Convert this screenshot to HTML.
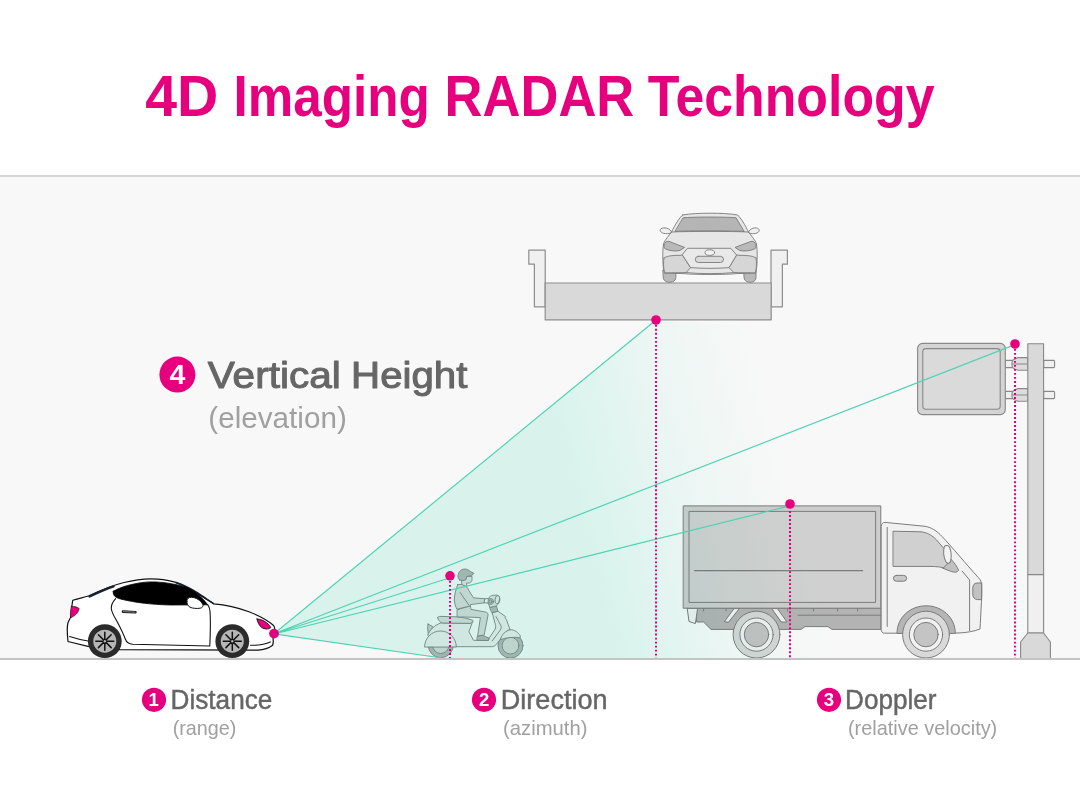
<!DOCTYPE html>
<html lang="en">
<head>
<meta charset="utf-8">
<title>4D Imaging RADAR Technology</title>
<style>
html,body{margin:0;padding:0;background:#fff;}
body{width:1080px;height:785px;overflow:hidden;font-family:"Liberation Sans",sans-serif;}
svg{display:block;}
text{font-family:"Liberation Sans",sans-serif;}
.t{fill:#e6007e;font-weight:700;font-size:58px;}
.h{fill:#666;font-size:26px;}
.s{fill:#a2a2a2;font-size:20px;}
.n{fill:#fff;font-weight:700;font-size:18.6px;text-anchor:middle;}
.dot{fill:#e6007e;}
.dl{stroke:#e6007e;stroke-width:2;stroke-dasharray:1.9 2.11;fill:none;}
.bm{stroke:#4fd3b3;stroke-width:1.2;fill:none;}
</style>
</head>
<body>
<svg width="1080" height="785" viewBox="0 0 1080 785">
<defs>
<linearGradient id="beam" gradientUnits="userSpaceOnUse" x1="588" y1="552.2" x2="796.6" y2="497.8">
<stop offset="0" stop-color="#dffaf3" stop-opacity="1"/>
<stop offset="0.25" stop-color="#dffaf3" stop-opacity="0.72"/>
<stop offset="0.55" stop-color="#dffaf3" stop-opacity="0.36"/>
<stop offset="1" stop-color="#dffaf3" stop-opacity="0"/>
</linearGradient>
</defs>
<rect width="1080" height="785" fill="#fff"/>
<!-- panel -->
<rect x="0" y="176" width="1080" height="483" fill="#f8f8f8"/>
<rect x="0" y="175" width="1080" height="2" fill="#d6d6d6"/>
<!-- title -->
<g id="title">
<text y="116" style="font-size:58px;font-weight:700;fill:#e6007e"><tspan x="145.32" textLength="73.09" lengthAdjust="spacingAndGlyphs">4D</tspan> <tspan x="233.58" textLength="196.29" lengthAdjust="spacingAndGlyphs">Imaging</tspan> <tspan x="444.61" textLength="189.67" lengthAdjust="spacingAndGlyphs">RADAR</tspan> <tspan x="647.65" textLength="286.85" lengthAdjust="spacingAndGlyphs">Technology</tspan></text>
</g>
<!--OBJ-BEGIN-->
<g id="bridge" stroke="#8e8e8e" stroke-width="1.2" stroke-linejoin="round">
<path d="M528.8 250.2 H545.2 V306.8 H534.4 V264.2 H528.8 Z" fill="#f0f0f0"/>
<path d="M787.4 250.2 H771 V306.8 H782.4 V264.2 H787.4 Z" fill="#f0f0f0"/>
<rect x="545.2" y="283" width="226" height="36.8" fill="#d9d9d9"/>
</g>
<g id="frontcar" stroke="#7a7a7a" stroke-width="0.9" stroke-linejoin="round" stroke-linecap="round">
<!-- tyres -->
<path d="M663.2 270 H675.8 V277.5 C675.8 284 663.2 284 663.2 277.5 Z" fill="#b9b9b9"/>
<path d="M744 270 H756 V277.5 C756 284 744 284 744 277.5 Z" fill="#b9b9b9"/>
<!-- body -->
<path d="M682.6 215 C690 213.6 700 213.2 710 213.2 C720 213.2 730 213.6 737.6 215 C741 218 745 225 748.5 232 C751.5 236 754.5 239.5 756 242.5 C757.4 247 757.4 256 757 263 C756.8 268 756.4 271.5 755.5 273.2 L736 273.6 C728 274.8 692 274.8 684 273.6 L664.5 273.2 C663.6 271.5 663.2 268 663 263 C662.6 256 662.6 247 664 242.5 C665.5 239.5 668.5 236 671.5 232 C675 225 679 218 682.6 215 Z" fill="#e6e6e6"/>
<!-- windshield -->
<path d="M683.4 217.8 C692 216.8 728 216.8 736 217.8 L744.2 231.4 C730 230.6 690 230.6 675.4 231.4 Z" fill="#b5b5b5"/>
<!-- mirrors -->
<path d="M671 231 C668 226.5 660 227.2 660.2 230.4 C660.4 233.4 666 234.4 670.6 233.2 Z" fill="#f0f0f0"/>
<path d="M749 231 C752 226.5 759.4 227.2 759.2 230.4 C759 233.4 753.6 234.4 749.4 233.2 Z" fill="#f0f0f0"/>
<!-- hood line -->
<path d="M671.5 232 C690 231.2 730 231.2 748.5 232" fill="none"/>
<!-- headlights -->
<path d="M663.8 245 C664 242.6 666.4 241 669 241.4 L684.6 247.4 L680 250.4 C675 251.8 669 250.6 665.4 249 C664.2 248 663.7 246.4 663.8 245 Z" fill="#b9b9b9"/>
<path d="M756.2 245 C756 242.6 753.6 241 751 241.4 L735 247.4 L739.6 250.4 C744.6 251.8 750.6 250.6 754.6 249 C755.8 248 756.3 246.4 756.2 245 Z" fill="#b9b9b9"/>
<!-- lower bumper side panels -->
<path d="M664 258 C666 256.2 672 255.2 680 255.4 L682.4 255 L690.6 267.6 L686 272.6 L664.6 272.8 C663.4 268 663.2 262 664 258 Z" fill="#d6d6d6"/>
<path d="M756 258 C754 256.2 748 255.2 740 255.4 L736.6 255 L729 267.6 L734 272.6 L755.4 272.8 C756.6 268 756.8 262 756 258 Z" fill="#d6d6d6"/>
<!-- grille -->
<path d="M687.8 248.3 H730.8 L736.6 255 L729 267.6 C718 268.6 702 268.6 690.6 267.6 L682.4 255 Z" fill="#e9e9e9"/>
<ellipse cx="709.8" cy="252.6" rx="4.8" ry="2.8" fill="#f2f2f2"/>
<rect x="695.3" y="256.3" width="28.2" height="6.2" rx="3.1" fill="#dadada"/>
<path d="M686 272.6 C700 274 720 274 734 272.6" fill="none"/>
</g>
<g id="sign" stroke="#888" stroke-width="1.1" stroke-linejoin="round">
<!-- brackets -->
<rect x="1005.3" y="360.4" width="22.5" height="7.2" fill="#f0f0f0"/>
<rect x="1005.3" y="391.4" width="22.5" height="7.2" fill="#f0f0f0"/>
<rect x="1043.6" y="360.4" width="11" height="7.2" rx="1" fill="#f0f0f0"/>
<rect x="1043.6" y="391.4" width="11" height="7.2" rx="1" fill="#f0f0f0"/>
<path d="M1027.8 357.6 H1018 C1015 358.6 1012.4 360 1012 362 V366 C1012.4 368 1015 369.4 1018 370.2 H1027.8 Z" fill="#dcdcdc"/>
<path d="M1027.8 388.6 H1018 C1015 389.6 1012.4 391 1012 393 V397 C1012.4 399 1015 400.4 1018 401.2 H1027.8 Z" fill="#dcdcdc"/>
<path d="M1012.4 364 H1027.8 M1012.4 395 H1027.8" fill="none"/>
<!-- pole -->
<rect x="1027.8" y="343.8" width="15.8" height="231" fill="#d9d9d9"/>
<rect x="1027.8" y="574.6" width="15.8" height="58.4" fill="#f0f0f0"/>
<path d="M1027.8 633 H1043.6 L1050.4 642 V658.6 H1020.6 V642 Z" fill="#d9d9d9"/>
<!-- board -->
<rect x="917.6" y="343.4" width="87.7" height="71.2" rx="5" fill="#d4d4d4"/>
<rect x="922.8" y="348.6" width="77.4" height="60.6" rx="3.2" fill="#dadada"/>
</g>
<g id="truck" stroke="#7c7c7c" stroke-width="1" stroke-linejoin="round" stroke-linecap="round">
<!-- chassis -->
<path d="M697 608.2 H881 V629.4 H832 L828 626.6 H805 L801 629.4 H711 L703.6 622 H697 Z" fill="#b3b3b3"/>
<path d="M703.6 608.2 V611 M726 608.2 V611 M787.6 608.2 V611 M813.6 608.2 V611 M837.6 608.2 V611 M857.6 608.2 V611 M798 615.2 H881" fill="none"/>
<path d="M724.6 621.4 L734 608.6 H739.4 L728.6 622 Z M772 608.6 H777.4 L787 622 H781.6 Z" fill="#f0f0f0"/>
<!-- mud flap -->
<path d="M687.6 608.4 H697.6 L695.4 623.6 L689.4 621.6 Z" fill="#f0f0f0"/>
<!-- box -->
<rect x="683.6" y="505.9" width="197.2" height="102.3" fill="#cdcdcd"/>
<rect x="689.4" y="511.4" width="186.2" height="91" fill="#d0d0d0"/>
<path d="M694.6 570.6 H862.6" fill="none" stroke-width="1.2"/>
<!-- cab -->
<path d="M881.2 526 C881.4 523.6 883 522.4 885 522.4 L924 526.2 C931 527 937 531 942 536.4 C952 547 966 564 978.4 577.6 C980.6 580 981.4 582 981.6 585 C982 592 981.6 600 981.2 606 C980.8 614 980.4 622 980 629 C974 631.4 966 632.8 958 633 L884.6 633.2 C882.6 633.2 881.4 632 881.2 630 Z" fill="#f1f1f1"/>
<path d="M887.2 527.4 V626.4" fill="none"/>
<path d="M962.2 571.2 L969.6 580 V630.6" fill="none"/>
<!-- window -->
<path d="M893.4 531.2 L921 531.8 C927 532.4 932 535.2 936.6 540 L946.6 551.6 L950 567 C947 568 943 568 939.6 567 C936 566.6 933 566.4 930 566.4 H893.4 Z" fill="#d0d0d0"/>
<path d="M943 568.2 C946 566 948.6 562.6 950.4 558.6 C954 562.4 957.4 566.6 958.6 570.4 C957.4 572.4 954.6 572.6 951.6 571.6 C948.6 570.6 945.6 569.4 943 568.2 Z" fill="#c0c0c0"/>
<!-- mirror -->
<path d="M945.6 546 C947.6 544.6 950 545.6 950.8 548.4 C951.6 553 951 558 949.6 561.6 C948.4 563.8 946.4 563.6 945 561.8 C943.4 557 943.6 550.4 945.6 546 Z" fill="#f4f4f4" transform="rotate(-8 947.6 554.5)"/>
<!-- handle -->
<rect x="893.4" y="575.4" width="13.2" height="5.8" rx="2.9" fill="#c8c8c8"/>
<!-- headlight -->
<path d="M981.4 583 H977 C974 583.2 972.8 585.4 972.8 588 V594 C972.8 597.6 974.6 599.4 977.6 599.6 H981.2 Z" fill="#c2c2c2"/>
<!-- wheel arch -->
<path d="M897 633 C897 617.6 910 605.8 926.1 605.8 C942.2 605.8 955.3 617.6 955.3 633 Z" fill="#b5b5b5"/>
<!-- wheels -->
<circle cx="756.5" cy="634.6" r="23.4" fill="#d6d6d6"/>
<circle cx="756.5" cy="634.6" r="16.6" fill="#efefef"/>
<circle cx="756.5" cy="634.6" r="12.2" fill="#c2c2c2"/>
<circle cx="926" cy="634.6" r="23.4" fill="#d9d9d9"/>
<circle cx="926" cy="634.6" r="16.6" fill="#f2f2f2"/>
<circle cx="926" cy="634.6" r="12.2" fill="#c4c4c4"/>
</g>
<!--OBJ-END-->
<!-- beam fill -->
<g id="beam-fill" style="mix-blend-mode:multiply">
<path d="M274 633.7 L656 320 L1015 344 L1015 659 L444 659 Z" fill="url(#beam)"/>
</g>
<!--SC-BEGIN-->
<g id="scooter" stroke="#6d8680" stroke-width="0.9" stroke-linejoin="round" stroke-linecap="round">
<!-- wheels -->
<circle cx="440.8" cy="645.2" r="12.5" fill="#9fb7b0"/>
<circle cx="440.8" cy="645.2" r="8.3" fill="#bdd4cd"/>
<circle cx="510.5" cy="645.6" r="12.5" fill="#9fb7b0"/>
<circle cx="510.5" cy="645.6" r="8.4" fill="#bdd4cd"/>
<!-- tail light -->
<path d="M428 624.1 L432.8 626.6 L428.6 634.6 C427.6 631 427.4 627 428 624.1 Z" fill="#b4ccc5"/>
<!-- body -->
<path d="M440.6 623 C434 625.5 429.6 630 427.6 635.4 L433 640 L456.3 646.7 H492.2 C494 646.4 495.4 645.6 496.4 644.4 L504.4 634 C506 631.6 508 630.2 510 629.4 L506.4 619.6 L505 617.6 L505.6 616.6 L497.9 611.2 L492.2 612.7 L495.6 625.6 C495.8 627.4 495.4 628.8 494.5 630.2 L489.1 638.2 L488.3 640.5 L473.5 640.3 L468.9 631.8 L472.7 621.4 L470.4 623.3 Z" fill="#d0e7e1"/>
<!-- shield crease lines -->
<path d="M496 616.6 L501.3 626.4 C501.4 628 500.9 629.2 500.2 630.2 L492.2 640.9" fill="none"/>
<!-- rear fender -->
<path d="M424.6 646.7 C424.6 638 431.8 631 440.5 631 C449.2 631 456.3 638 456.3 646.7 Z" fill="#d0e7e1"/>
<!-- front fender -->
<path d="M500.4 639.6 C501.6 634.6 505.6 630.4 510.6 629.8 C514.4 629.6 518 632.2 520.4 636 L520 637.8 C514 636.6 506 637.6 500.4 639.6 Z" fill="#d0e7e1"/>
<!-- seat -->
<path d="M437.6 617.8 C438 616.8 439 616.4 440 616.4 L457 616.8 C463 617.4 468 618.6 472.6 620.2 C473.2 620.8 473.2 621.4 472.7 621.8 L470.4 623.4 L442.4 623 C440.2 622.4 438.4 620.4 437.6 617.8 Z" fill="#bfd7d0"/>
<!-- leg -->
<path d="M457.5 609.6 L470.4 605.9 L471 609.4 L485.3 612 C487.4 612.4 488.4 613.6 488 615.4 L484.1 635.2 L477.6 636.3 L480.4 617.6 L471 617.2 L457.5 616.9 Z" fill="#bfd7d0"/>
<!-- shoe -->
<path d="M477.6 636.3 L482.2 635.2 L489.1 638.2 L488.3 640.5 L477.3 640.3 Z" fill="#9fb7b0"/>
<!-- steering column -->
<path d="M489.9 607.4 L496.4 605.9 L497.9 611.2 L492.2 612.7 Z" fill="#9fb7b0"/>
<!-- headlight unit -->
<path d="M488.3 598.4 C489.6 596.6 491.2 595.6 492.9 595.3 L497 595.1 C499 595.6 500 597.6 499.8 599.8 C499.8 601.6 499.2 603 498.3 603.8 L496.4 605.9 L489.9 607.4 L488 603 Z" fill="#c6dfd8"/>
<ellipse cx="497.3" cy="599.7" rx="2.2" ry="4.2" fill="#d0e7e1" transform="rotate(8 497.3 599.7)"/>
<circle cx="490.6" cy="601.5" r="3" fill="#c6dfd8"/>
<circle cx="490.6" cy="601.5" r="1.8" fill="#9fb7b0"/>
<!-- neck / face -->
<path d="M461.7 580.4 V585 L466.6 587 V583 L469.7 582.9 C471.4 582 472.2 580.6 472 579.4 V576.4 H466.6 Z" fill="#c6dfd8"/>
<!-- torso+arm -->
<path d="M457.8 584.6 L461.7 584.4 L466.6 586.8 C467.6 588 468.4 589.4 468.9 590.6 L473.5 597.8 L485.3 598.8 L484.4 602.8 L470.4 604.6 L470.4 605.9 L456.9 609.2 C455 605.6 454.2 602 454.4 598.2 C454.8 593 456.2 588 457.8 584.6 Z" fill="#bfd7d0"/>
<path d="M460.1 592.5 L468.9 605.1" fill="none"/>
<!-- hand -->
<path d="M485.3 598.8 L488.3 598.4 L488 603 L484.4 602.8 Z" fill="#e4f3ef"/>
<!-- helmet -->
<path d="M459.6 580 C458.2 578.4 457.8 576.6 458.1 575 C458.8 571.4 461.4 569 464.6 569 C467 569 469 570.2 470.6 571.6 L474 573.4 C473 574.8 471.4 575.6 469.7 575.8 L466.8 576.4 C466.4 577.6 466.2 578.8 465.9 580 C464 580.8 461.6 580.8 459.6 580 Z" fill="#9fb7b0"/>
</g>
<!--SC-END-->
<!-- beam lines -->
<g id="beam-lines">
<path class="bm" d="M274 633.8 L656 320 M274 633.8 L1015 344.6 M274 634 L790 505.8 M274 633.8 L450 577.8 M274 633.8 L442 658"/>
</g>
<!-- dotted -->
<g id="dotted">
<path class="dl" d="M450 580.9V658 M656 324.85V658 M790 511V658 M1015 348.9V658"/>
<circle class="dot" cx="450" cy="575.8" r="4.8"/>
<circle class="dot" cx="656" cy="320" r="4.8"/>
<circle class="dot" cx="790" cy="504" r="4.8"/>
<circle class="dot" cx="1015" cy="344" r="4.8"/>
</g>
<!--CAR-BEGIN-->
<g id="car" stroke-linejoin="round" stroke-linecap="round">
<!-- body -->
<path d="M68 641.5 C67.2 634 66.8 628 67.8 623.5 C68.5 620.5 70.5 618.5 71 616 C71.5 611 71.8 605 72.8 600.2 C78 598.6 84 597.4 89 595.8 C100 590.5 112 585.5 124 582.5 C133 580.2 142 578.9 151 578.8 C160 578.8 167 579.8 174 581.8 C184 584.6 199 594.5 213.8 603.8 C225 604.6 238 607.5 249 611.8 C259 615.6 268 620.5 273.6 625.5 C274.8 627 274.8 629 274.2 631 L273 638 C273.4 641 273.6 643 272.6 645.2 C269 648 264 649.8 258 650.2 L120 649.6 L88 646.4 Z" fill="#fff" stroke="#111" stroke-width="1.2"/>
<!-- rear glass & windshield dark bands -->
<path d="M89.6 596.4 C97 593 105 589.4 113.5 586.4" stroke="#1a2230" stroke-width="2.4" fill="none"/>
<path d="M176 582.6 C184 585 190 588.4 196 592 C202 595.8 208 600 213.5 603.6" stroke="#1a2230" stroke-width="1.7" fill="none"/>
<!-- window -->
<path d="M113.3 591.2 C119 588 126 585.6 133 584.2 C140 582.6 146 581.9 151 581.9 C158 581.9 164 582.4 169 583.4 C176 584.4 182 585.6 188 588 C196 592.2 202 597.3 207.8 604.8 L171 605 C161 604.8 152 604.2 144.6 603.3 C135 602.2 127 600.6 120.5 599 C117.5 598.2 115 597 114 595.2 C113.3 594 113 592.5 113.3 591.2 Z" fill="#000" stroke="#000" stroke-width="0.8"/>
<!-- mirror -->
<path d="M186.8 601.5 C186.6 598.8 188.6 597.2 191.4 597.3 C196 597.4 200.6 600.4 202.8 604.4 C203.6 606.4 202.4 607.8 200 608.2 C196.5 608.7 192.5 608.4 190 607.2 C187.8 606 187 603.8 186.8 601.5 Z" fill="#fff" stroke="#111" stroke-width="1"/>
<!-- door lines -->
<path d="M115.6 598.6 C112.6 602 111 605.5 111.3 608.8 C112 614 115.5 618.5 118 623.2 C121 629 123.5 634 125.3 639 C126.5 642.3 129 644 132.8 644.2 L209.8 646 C210.4 633 210.6 620 210 611 C209.8 608.2 209 606.4 207.8 604.8" fill="none" stroke="#111" stroke-width="1.1"/>
<!-- bumper creases -->
<path d="M69.6 636.6 C75 638.4 81 640 88 641" fill="none" stroke="#111" stroke-width="1.1"/>
<path d="M250.5 645.2 C258 645.4 265 644.6 270.4 642" fill="none" stroke="#111" stroke-width="1.1"/>
<!-- handle -->
<path d="M123 611.6 L135.4 612.2" stroke="#111" stroke-width="2.6" fill="none"/>
<path d="M123.4 611.6 L135 612.2" stroke="#888" stroke-width="1" fill="none"/>
<!-- lights -->
<path d="M71.4 606.4 C74.6 606.2 77.4 607 79.2 608.6 C78.6 612.6 75 616 70.7 617.8 C70.2 614 70.4 609.8 71.4 606.4 Z" fill="#e6007e" stroke="#111" stroke-width="0.6"/>
<path d="M257 619 C262.4 619.2 267.8 622.4 270.8 627.6 C268.6 629.6 264.4 629.4 261.6 627.4 C259 625.4 257.6 622.2 257 619 Z" fill="#e6007e" stroke="#111" stroke-width="0.9"/>
<!-- wheels -->
<g id="w1">
<circle cx="104.8" cy="641.2" r="16.9" fill="#2b2b2b"/>
<circle cx="104.8" cy="641.2" r="11.5" fill="#b6b6b6"/>
<path d="M104.8 632.2V650.2 M95.8 641.2H113.8 M98.4 634.8L111.2 647.6 M111.2 634.8L98.4 647.6" stroke="#111" stroke-width="1.5" fill="none"/>
<circle cx="104.8" cy="641.2" r="1.2" fill="#b6b6b6"/>
</g>
<g id="w2">
<circle cx="232.3" cy="641.2" r="16.9" fill="#2b2b2b"/>
<circle cx="232.3" cy="641.2" r="11.5" fill="#b6b6b6"/>
<path d="M232.3 632.2V650.2 M223.3 641.2H241.3 M225.9 634.8L238.7 647.6 M238.7 634.8L225.9 647.6" stroke="#111" stroke-width="1.5" fill="none"/>
<circle cx="232.3" cy="641.2" r="1.2" fill="#b6b6b6"/>
</g>
<circle cx="274" cy="633.6" r="4.9" fill="#e6007e"/>
</g>
<!--CAR-END-->
<rect x="0" y="658" width="1080" height="2" fill="#c4c4c4"/>
<!-- labels -->
<g id="labels">
<circle class="dot" cx="177.4" cy="374.6" r="18"/>
<text class="n" x="177.4" y="384.4" style="font-size:28.5px">4</text>
<text y="388.4" style="font-size:37.8px;font-weight:400;fill:#666;stroke:#666;stroke-width:1.05;stroke-linejoin:round"><tspan x="207.8" textLength="132.98" lengthAdjust="spacingAndGlyphs">Vertical</tspan> <tspan x="351.09" textLength="116.35" lengthAdjust="spacingAndGlyphs">Height</tspan></text>
<text x="208.35" y="427.7" textLength="138.45" lengthAdjust="spacingAndGlyphs" style="font-size:29.5px;font-weight:400;fill:#a0a0a0">(elevation)</text>

<circle class="dot" cx="154" cy="699.8" r="12.1"/>
<text class="n" x="153.6" y="706.2">1</text>
<text x="170.5" y="708.7" textLength="101.83" lengthAdjust="spacingAndGlyphs" style="font-size:26.8px;font-weight:400;fill:#666;stroke:#666;stroke-width:0.45">Distance</text>
<text x="172.7" y="735.2" textLength="63.7" lengthAdjust="spacingAndGlyphs" style="font-size:20.4px;font-weight:400;fill:#a0a0a0">(range)</text>

<circle class="dot" cx="484" cy="699.8" r="12.1"/>
<text class="n" x="484.2" y="706.2">2</text>
<text x="500.84" y="708.7" textLength="106.71" lengthAdjust="spacingAndGlyphs" style="font-size:26.8px;font-weight:400;fill:#666;stroke:#666;stroke-width:0.45">Direction</text>
<text x="503.06" y="735.2" textLength="84.42" lengthAdjust="spacingAndGlyphs" style="font-size:20.4px;font-weight:400;fill:#a0a0a0">(azimuth)</text>

<circle class="dot" cx="829" cy="699.8" r="12.1"/>
<text class="n" x="829" y="706.2">3</text>
<text x="845.01" y="708.7" textLength="91.55" lengthAdjust="spacingAndGlyphs" style="font-size:26.8px;font-weight:400;fill:#666;stroke:#666;stroke-width:0.45">Doppler</text>
<text x="847.93" y="735.2" textLength="149.34" lengthAdjust="spacingAndGlyphs" style="font-size:20.4px;font-weight:400;fill:#a0a0a0">(relative velocity)</text>
</g>
</svg>
</body>
</html>
